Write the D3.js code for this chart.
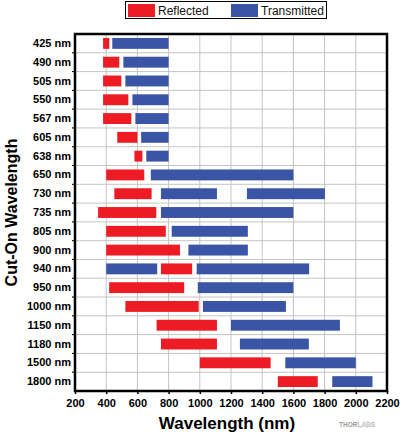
<!DOCTYPE html>
<html>
<head>
<meta charset="utf-8">
<script src="https://cdn.jsdelivr.net/npm/d3@7"></script>
<style>
  body { margin: 0; background: #fff; }
  text { font-family: "Liberation Sans", Arial, sans-serif; }
</style>
</head>
<body>
<script>
// cut-on wavelength rows, top to bottom
const cutOns = ["425 nm", "490 nm", "505 nm", "550 nm", "567 nm", "605 nm", "638 nm",
  "650 nm", "730 nm", "735 nm", "805 nm", "900 nm", "940 nm", "950 nm", "1000 nm",
  "1150 nm", "1180 nm", "1500 nm", "1800 nm"]

// reflected band [start, end] in nm
const reflected = [[380, 420], [380, 484], [380, 497], [380, 542], [380, 561], [471, 600],
  [581, 632], [400, 644], [452, 691], [348, 721], [400, 782], [400, 873], [751, 951],
  [419, 900], [523, 993], [723, 1110], [751, 1110], [1000, 1454], [1500, 1756]]

// transmitted band(s), some rows have two
const transmitted = [[[439, 800]], [[510, 800]], [[523, 800]], [[568, 800]], [[587, 800]],
  [[624, 800]], [[657, 800]], [[686, 1600]], [[751, 1110], [1302, 1802]], [[751, 1600]],
  [[820, 1308]], [[927, 1308]], [[400, 727], [980, 1701]], [[987, 1600]], [[1020, 1552]],
  [[1200, 1898]], [[1257, 1699]], [[1548, 2000]], [[1849, 2107]]]

const xTicks = [200, 400, 600, 800, 1000, 1200, 1400, 1600, 1800, 2000, 2200]

const RED = '#ED1C24'
const BLUE = '#3A55A5'

const W = 400, H = 440
const margin = { left: 75, right: 13, top: 34, bottom: 49 }
const width = W - margin.left - margin.right
const height = H - margin.top - margin.bottom

const svg = d3.select("body").append("svg")
  .attr("width", W)
  .attr("height", H)

const g = svg.append("g")
  .attr("transform", `translate(${margin.left},${margin.top})`)

const x = d3.scaleLinear().domain([200, 2200]).range([0, width])
const y = d3.scaleBand().domain(cutOns).range([0, height]).paddingInner(0.42).paddingOuter(0.21)

// vertical grid
g.selectAll(".vgrid").data(xTicks.slice(1, -1)).join("line")
  .attr("x1", d => x(d)).attr("x2", d => x(d))
  .attr("y1", 0).attr("y2", height)
  .attr("stroke", "#c4c4c4").attr("stroke-width", 1)

// row separators + little outside ticks
const step = y.step()
const bounds = d3.range(1, cutOns.length).map(i => y(cutOns[i]) - y.paddingInner() * step / 2)
g.selectAll(".hgrid").data(bounds).join("line")
  .attr("x1", -3).attr("x2", width)
  .attr("y1", d => d).attr("y2", d => d)
  .attr("stroke", "#c4c4c4").attr("stroke-width", 1)
g.selectAll(".htick").data(bounds).join("line")
  .attr("x1", -3).attr("x2", 0)
  .attr("y1", d => d).attr("y2", d => d)
  .attr("stroke", "#000").attr("stroke-width", 1)

// bars
g.selectAll(".refl").data(cutOns).join("rect")
  .attr("x", (d, i) => x(reflected[i][0]))
  .attr("width", (d, i) => x(reflected[i][1]) - x(reflected[i][0]))
  .attr("y", d => y(d))
  .attr("height", y.bandwidth())
  .attr("fill", RED)

const transRows = cutOns.flatMap((c, i) => transmitted[i].map(s => ({ c, s })))
g.selectAll(".trans").data(transRows).join("rect")
  .attr("x", d => x(d.s[0]))
  .attr("width", d => x(d.s[1]) - x(d.s[0]))
  .attr("y", d => y(d.c))
  .attr("height", y.bandwidth())
  .attr("fill", BLUE)

// y axis labels
const yAxis = g.append("g")
  .call(d3.axisLeft(y).tickSize(0).tickPadding(4))
yAxis.select(".domain").remove()
yAxis.selectAll("text")
  .attr("font-size", 11).attr("font-weight", "bold").attr("fill", "#000")
  .style("font-family", '"Liberation Sans", Arial, sans-serif')

// x axis
const xAxis = g.append("g")
  .attr("transform", `translate(0,${height})`)
  .call(d3.axisBottom(x).tickValues(xTicks).tickFormat(d3.format("d")).tickSize(3).tickPadding(5))
xAxis.select(".domain").remove()
xAxis.selectAll("line").attr("stroke", "#000").attr("stroke-width", 1.5)
xAxis.selectAll("text")
  .attr("font-size", 11).attr("font-weight", "bold").attr("fill", "#000")
  .style("font-family", '"Liberation Sans", Arial, sans-serif')

// frame
g.append("rect")
  .attr("width", width).attr("height", height)
  .attr("fill", "none").attr("stroke", "#000").attr("stroke-width", 2.5)

// axis titles
svg.append("text")
  .attr("x", margin.left + width / 2 - 4).attr("y", 429)
  .attr("text-anchor", "middle")
  .attr("font-size", 17).attr("font-weight", "bold")
  .text("Wavelength (nm)")

svg.append("text")
  .attr("transform", `translate(17,${margin.top + height / 2}) rotate(-90)`)
  .attr("text-anchor", "middle")
  .attr("font-size", 16).attr("font-weight", "bold")
  .text("Cut-On Wavelength")

// legend
const leg = svg.append("g")
leg.append("rect")
  .attr("x", 125.5).attr("y", 1.5).attr("width", 201).attr("height", 17)
  .attr("fill", "#fff").attr("stroke", "#000").attr("stroke-width", 1)
const legItems = [["Reflected", RED, 128], ["Transmitted", BLUE, 231]]
legItems.forEach(([label, col, lx]) => {
  leg.append("rect").attr("x", lx).attr("y", 4).attr("width", 27).attr("height", 13).attr("fill", col)
  leg.append("text").attr("x", lx + 30).attr("y", 14.5)
    .attr("font-size", 12).attr("fill", "#111").text(label)
})

// little logo
const logo = svg.append("text")
  .attr("x", 339).attr("y", 427)
  .attr("font-size", 6.5).attr("font-weight", "bold")
logo.append("tspan").attr("fill", "#9a9a9a").text("THOR")
logo.append("tspan").attr("fill", "#e6e6e6").attr("stroke", "#b0b0b0").attr("stroke-width", 0.3).text("LABS")
</script>
</body>
</html>
